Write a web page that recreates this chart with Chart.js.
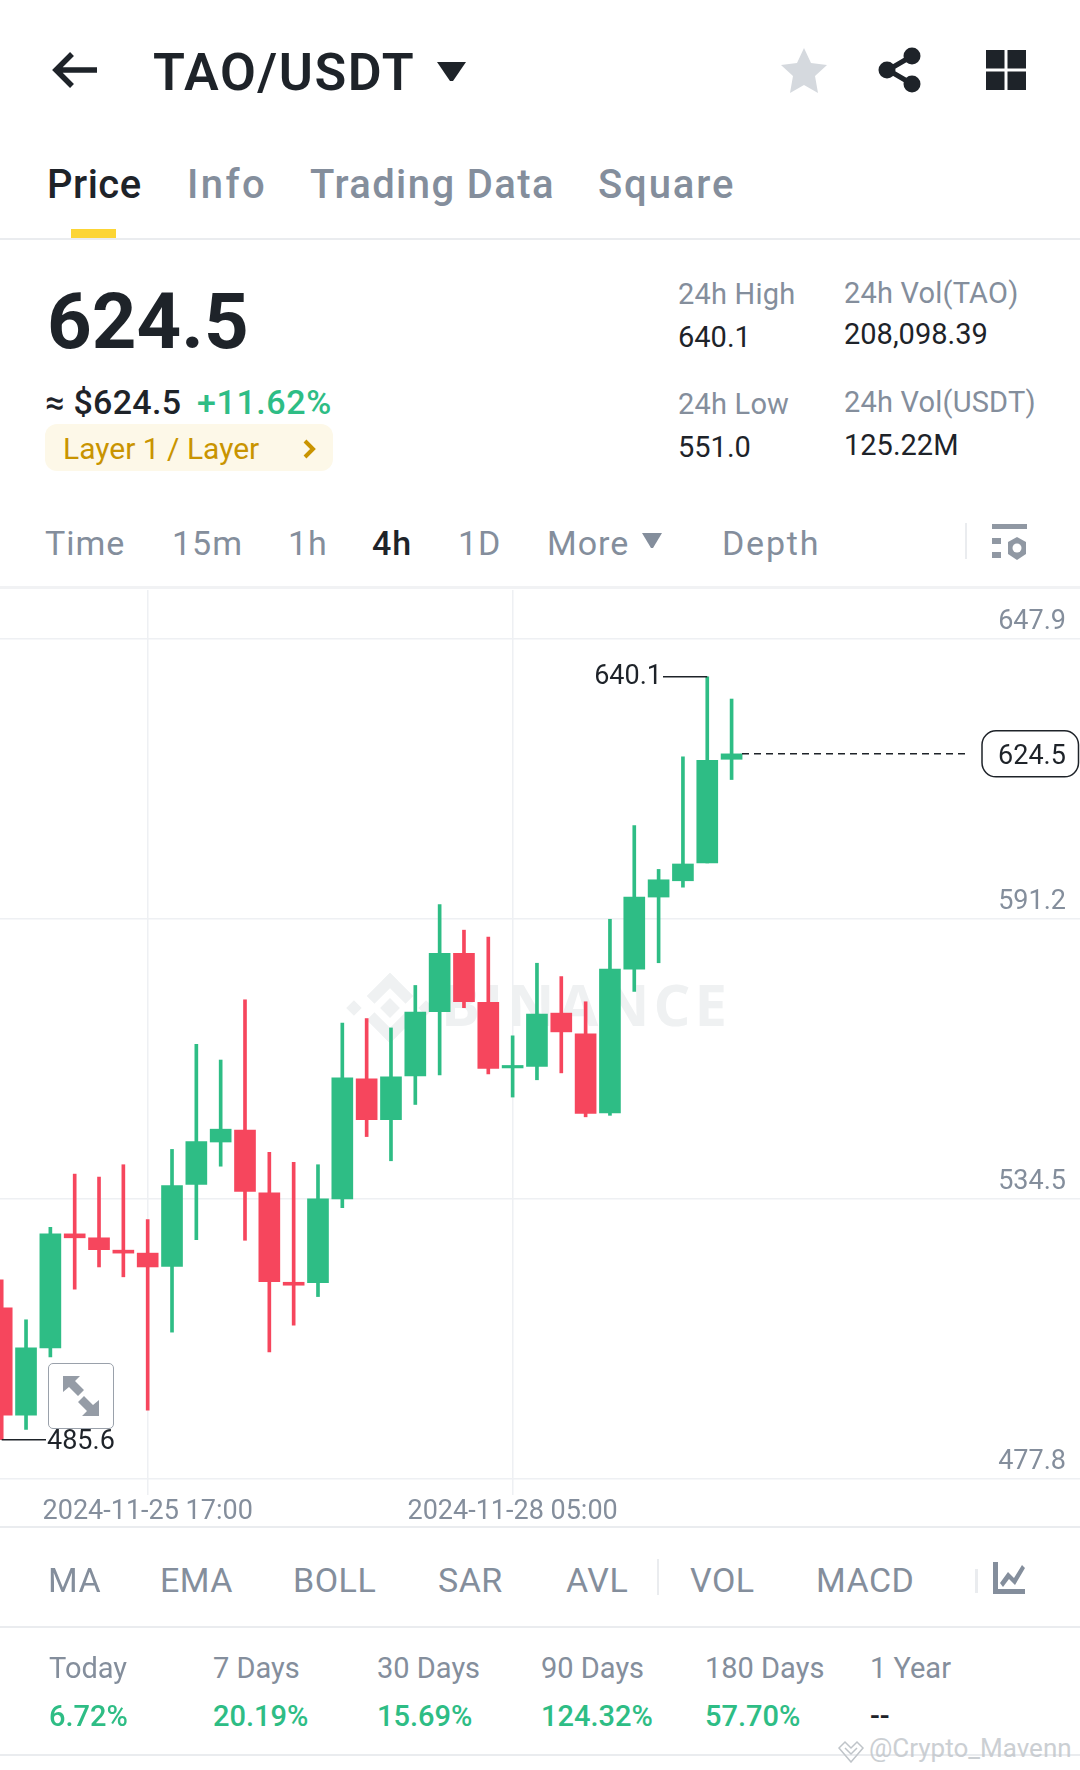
<!DOCTYPE html>
<html>
<head>
<meta charset="utf-8">
<title>TAO/USDT</title>
<script src="https://cdn.jsdelivr.net/npm/chart.js@4"></script>
<style>
  html, body { margin: 0; padding: 0; background: #fff; }
  #page { position: relative; width: 1080px; height: 1770px; overflow: hidden; font-family: Roboto, sans-serif; color: #1e2329; }
  #page span { position: absolute; white-space: nowrap; transform: translateY(-50%); line-height: 1; }
  .line { position: absolute; background: #eaecef; }
  .tab { font-size: 40px; font-weight: 500; color: #848e9c; letter-spacing: 1.9px; }
  .stat { font-size: 29px; color: #848e9c; letter-spacing: .2px; }
  .num { font-size: 29px; color: #1e2329; }
  .range { font-size: 34px; color: #848e9c; letter-spacing: 1px; }
  .ind { font-size: 34px; color: #848e9c; letter-spacing: .5px; }
  .per { font-size: 29px; color: #848e9c; }
  .ret { font-size: 29px; font-weight: 500; color: #2ebd85; }
  svg { position: absolute; }
  canvas { position: absolute; left: 0; top: 590px; }
</style>
</head>
<body>
<div id="page">
  <!-- top bar -->
  <svg style="left:50px;top:50px" width="50" height="40" viewBox="0 0 50 40"><path d="M47 20H7M22 4L6 20l16 16" fill="none" stroke="#1e2329" stroke-width="5.5"/></svg>
  <span style="left:153px;top:73px;font-size:52px;font-weight:600;letter-spacing:1.6px">TAO/USDT</span>
  <svg style="left:436px;top:61px" width="31" height="21" viewBox="0 0 31 21"><path d="M1 1h29L17 20h-3z" fill="#1e2329"/></svg>
  <svg style="left:780px;top:47px" width="48" height="48" viewBox="0 0 48 48"><path d="M24 1l7 15 16 2-12 11 3 17-14-8-14 8 3-17L1 18l16-2z" fill="#d5d9de"/></svg>
  <svg style="left:876px;top:46px" width="48" height="48" viewBox="0 0 48 48"><path d="M36 10L12 24l24 14" fill="none" stroke="#1e2329" stroke-width="5"/><circle cx="36" cy="10" r="8.5" fill="#1e2329"/><circle cx="11" cy="24" r="8.5" fill="#1e2329"/><circle cx="36" cy="38" r="8.5" fill="#1e2329"/></svg>
  <svg style="left:986px;top:50px" width="40" height="40" viewBox="0 0 40 40" fill="#1e2329"><rect width="18.5" height="18.5"/><rect x="21.5" width="18.5" height="18.5"/><rect y="21.5" width="18.5" height="18.5"/><rect x="21.5" y="21.5" width="18.5" height="18.5"/></svg>

  <!-- tabs -->
  <span class="tab" style="left:47px;top:185px;color:#1e2329;letter-spacing:.5px">Price</span>
  <span class="tab" style="left:187px;top:185px;letter-spacing:2.4px">Info</span>
  <span class="tab" style="left:310px;top:185px;letter-spacing:1.4px">Trading Data</span>
  <span class="tab" style="left:598px;top:185px">Square</span>
  <div style="position:absolute;left:71px;top:229px;width:45px;height:9px;background:#fcd535"></div>
  <div class="line" style="left:0;top:238px;width:1080px;height:2px"></div>

  <!-- price block -->
  <span style="left:47px;top:322px;font-size:78px;font-weight:700">624.5</span>
  <span style="left:45px;top:402px;font-size:34px;font-weight:500;letter-spacing:.3px">≈ $624.5</span>
  <span style="left:197px;top:402px;font-size:34px;font-weight:500;letter-spacing:.6px;color:#2ebd85">+11.62%</span>
  <div style="position:absolute;left:45px;top:424px;width:288px;height:47px;border-radius:12px;background:#fdf8e8"></div>
  <span style="left:63px;top:449px;font-size:30px;color:#c99400">Layer 1 / Layer</span>
  <svg style="left:302px;top:439px" width="14" height="20" viewBox="0 0 14 20"><path d="M3 2l8 8-8 8" fill="none" stroke="#c99400" stroke-width="4"/></svg>

  <span class="stat" style="left:678px;top:294px">24h High</span>
  <span class="num" style="left:678px;top:337px">640.1</span>
  <span class="stat" style="left:678px;top:404px">24h Low</span>
  <span class="num" style="left:678px;top:447px">551.0</span>
  <span class="stat" style="left:844px;top:293px">24h Vol(TAO)</span>
  <span class="num" style="left:844px;top:334px">208,098.39</span>
  <span class="stat" style="left:844px;top:402px">24h Vol(USDT)</span>
  <span class="num" style="left:844px;top:445px">125.22M</span>

  <!-- interval row -->
  <span class="range" style="left:45px;top:543px">Time</span>
  <span class="range" style="left:172px;top:543px">15m</span>
  <span class="range" style="left:288px;top:543px">1h</span>
  <span class="range" style="left:372px;top:543px;color:#1e2329;font-weight:500">4h</span>
  <span class="range" style="left:458px;top:543px">1D</span>
  <span class="range" style="left:547px;top:543px">More</span>
  <svg style="left:642px;top:533px" width="20" height="15" viewBox="0 0 20 15"><path d="M0 0h20L11 15H9z" fill="#848e9c"/></svg>
  <span class="range" style="left:722px;top:543px;letter-spacing:1.8px">Depth</span>
  <div class="line" style="left:965px;top:523px;width:2px;height:36px"></div>
  <svg style="left:992px;top:524px" width="35" height="36" viewBox="0 0 35 36" fill="#9098a3"><rect width="35" height="5"/><rect y="14" width="9" height="6"/><rect y="28" width="9" height="6"/><path d="M25 13l9 5v12l-9 6-9-6V18z"/><circle cx="25" cy="24" r="4.5" fill="#fff"/></svg>
  <div class="line" style="left:0;top:586px;width:1080px;height:3px;background:#f1f2f4"></div>

  <canvas id="myChart" width="1080" height="937"></canvas>

  <!-- expand button -->
  <div style="position:absolute;left:48px;top:1363px;width:64px;height:64px;border:1.5px solid #9aa1ab;border-radius:5px;background:#fff"></div>
  <svg style="left:60px;top:1375px" width="42" height="42" viewBox="0 0 42 42" fill="#959ca6"><path d="M3 1h17l-5 5 9 9-6 6-9-9-6 5z"/><path d="M39 41H22l5-5-9-9 6-6 9 9 6-5z"/></svg>

  <div class="line" style="left:0;top:1526px;width:1080px;height:2px"></div>

  <!-- indicator row -->
  <span class="ind" style="left:48px;top:1580px">MA</span>
  <span class="ind" style="left:160px;top:1580px">EMA</span>
  <span class="ind" style="left:293px;top:1580px">BOLL</span>
  <span class="ind" style="left:438px;top:1580px">SAR</span>
  <span class="ind" style="left:566px;top:1580px">AVL</span>
  <div class="line" style="left:657px;top:1559px;width:2px;height:36px"></div>
  <span class="ind" style="left:690px;top:1580px">VOL</span>
  <span class="ind" style="left:816px;top:1580px">MACD</span>
  <div class="line" style="left:975px;top:1569px;width:3px;height:24px"></div>
  <svg style="left:993px;top:1562px" width="32" height="32" viewBox="0 0 32 32" fill="#848e9c"><path d="M0 0h5v27h27v5H0z"/><path d="M7 21l8-11 6 6 8-13 3 3-10 17-6-6-6 8z"/></svg>
  <div class="line" style="left:0;top:1626px;width:1080px;height:2px"></div>

  <!-- returns row -->
  <span class="per" style="left:49px;top:1668px">Today</span>
  <span class="per" style="left:213px;top:1668px">7 Days</span>
  <span class="per" style="left:377px;top:1668px">30 Days</span>
  <span class="per" style="left:541px;top:1668px">90 Days</span>
  <span class="per" style="left:705px;top:1668px">180 Days</span>
  <span class="per" style="left:870px;top:1668px">1 Year</span>
  <span class="ret" style="left:49px;top:1716px">6.72%</span>
  <span class="ret" style="left:213px;top:1716px">20.19%</span>
  <span class="ret" style="left:377px;top:1716px">15.69%</span>
  <span class="ret" style="left:541px;top:1716px">124.32%</span>
  <span class="ret" style="left:705px;top:1716px">57.70%</span>
  <span class="ret" style="left:870px;top:1716px;color:#1e2329">--</span>
  <div class="line" style="left:0;top:1754px;width:1080px;height:2px"></div>

  <!-- screenshot watermark -->
  <svg style="left:837px;top:1739px" width="28" height="24" viewBox="0 0 28 24" fill="none" stroke="#bfc4c9" stroke-width="1.5"><path d="M14 23L2 9l6-6 6 6 6-6 6 6zM8 9l6 6 6-6"/></svg>
  <span style="left:869px;top:1748px;font-size:26px;color:#c3c7cc;opacity:.85">@Crypto_Mavenn</span>
</div>

<script>
// 4h candles
var times = [
    '2024-11-24 17:00', '2024-11-24 21:00', '2024-11-25 01:00', '2024-11-25 05:00', '2024-11-25 09:00', '2024-11-25 13:00',
    '2024-11-25 17:00', '2024-11-25 21:00', '2024-11-26 01:00', '2024-11-26 05:00', '2024-11-26 09:00', '2024-11-26 13:00',
    '2024-11-26 17:00', '2024-11-26 21:00', '2024-11-27 01:00', '2024-11-27 05:00', '2024-11-27 09:00', '2024-11-27 13:00',
    '2024-11-27 17:00', '2024-11-27 21:00', '2024-11-28 01:00', '2024-11-28 05:00', '2024-11-28 09:00', '2024-11-28 13:00',
    '2024-11-28 17:00', '2024-11-28 21:00', '2024-11-29 01:00', '2024-11-29 05:00', '2024-11-29 09:00', '2024-11-29 13:00',
    '2024-11-29 17:00'
];
var opens = [512.3, 490.6, 504.2, 527.3, 526.5, 524.0, 523.4, 520.7, 537.3, 545.9, 548.3, 535.6, 517.5, 517.4, 534.4, 558.7,
    550.4, 559.3, 572.3, 584.1, 574.2, 560.9, 561.2, 572.0, 567.8, 551.8, 580.9, 595.5, 598.8, 602.4, 623.4];
var closes = [490.6, 504.2, 527.3, 526.5, 524.1, 523.4, 520.6, 537.1, 546.0, 548.5, 535.9, 517.6, 516.9, 534.4, 558.9, 550.4,
    559.1, 572.2, 584.1, 574.3, 560.8, 561.4, 571.8, 568.2, 551.7, 580.9, 595.5, 599.0, 602.2, 623.2, 624.5];
var highs = [518.0, 509.9, 528.6, 539.4, 538.8, 541.3, 530.2, 544.4, 565.7, 562.5, 574.7, 543.8, 541.8, 541.3, 570.0, 570.9,
    569.0, 577.6, 594.0, 588.8, 587.4, 567.4, 582.1, 579.4, 574.3, 591.0, 610.0, 601.1, 623.9, 640.1, 635.6];
var lows = [485.6, 487.7, 502.4, 516.1, 520.6, 518.6, 491.6, 507.4, 526.1, 541.0, 526.0, 503.4, 508.8, 514.6, 532.6, 547.0,
    542.1, 553.5, 559.5, 573.1, 559.7, 555.0, 558.5, 559.9, 551.0, 551.3, 576.4, 582.2, 597.5, 602.4, 619.3];
var priceTicks = [647.9, 591.2, 534.5, 477.8];
var timeTicks = ['2024-11-25 17:00', '2024-11-28 05:00'];
var lastPrice = 624.5;
var highLabel = 640.1;
var lowLabel = 485.6;

var GREEN = '#2ebd85';
var RED = '#f6465d';

function candleColor(i) {
    return closes[i] >= opens[i] ? GREEN : RED;
}

// the scales must not reserve room for the outer labels, the plot runs edge to edge
function noPadding(axis) {
    axis.paddingLeft = 0;
    axis.paddingRight = 0;
    axis.paddingTop = 0;
    axis.paddingBottom = 0;
}

var wicks = times.map(function (t, i) { return { x: i, y: [lows[i], highs[i]] }; });
var bodies = times.map(function (t, i) { return { x: i, y: [opens[i], closes[i]] }; });

// draws the faint logo behind the candles and the price labels on top of them
var extras = {
    id: 'extras',
    beforeDatasetsDraw: function (chart) {
        var ctx = chart.ctx;
        ctx.save();
        ctx.fillStyle = '#eff1f2';
        ctx.translate(390, 418);
        ctx.rotate(Math.PI / 4);
        [[-25, -25, 33, 11], [-25, -25, 11, 33], [14, -8, 11, 33], [-8, 14, 33, 11], [-7, -7, 14, 14], [-31, 20, 11, 11], [20, -31, 11, 11]].forEach(function (r) {
            ctx.fillRect(r[0], r[1], r[2], r[3]);
        });
        ctx.restore();
        ctx.save();
        ctx.fillStyle = '#eff1f2';
        ctx.font = '700 58px "Open Sans"';
        ctx.textBaseline = 'middle';
        ctx.letterSpacing = '4px';
        ctx.fillText('BINANCE', 441, 419);
        ctx.restore();
    },
    afterDatasetsDraw: function (chart) {
        var ctx = chart.ctx;
        var x = chart.scales.x;
        var y = chart.scales.y;
        ctx.save();
        ctx.font = '27px Roboto';
        ctx.textBaseline = 'middle';
        ctx.fillStyle = '#1e2329';
        ctx.strokeStyle = '#1e2329';
        ctx.lineWidth = 1.5;

        // highest candle
        var hi = highs.indexOf(highLabel);
        var hiY = y.getPixelForValue(highLabel);
        ctx.beginPath();
        ctx.moveTo(663, hiY);
        ctx.lineTo(x.getPixelForValue(hi), hiY);
        ctx.stroke();
        ctx.textAlign = 'right';
        ctx.fillText(highLabel.toFixed(1), 662, hiY);

        // lowest candle
        var lo = lows.indexOf(lowLabel);
        var loY = y.getPixelForValue(lowLabel);
        ctx.beginPath();
        ctx.moveTo(x.getPixelForValue(lo), loY);
        ctx.lineTo(46, loY);
        ctx.stroke();
        ctx.textAlign = 'left';
        ctx.fillText(lowLabel.toFixed(1), 47, loY + 2);

        // last price line and box
        var lastY = y.getPixelForValue(lastPrice);
        ctx.setLineDash([7, 5]);
        ctx.beginPath();
        ctx.moveTo(742, lastY);
        ctx.lineTo(965, lastY);
        ctx.stroke();
        ctx.setLineDash([]);
        ctx.fillStyle = '#fff';
        ctx.beginPath();
        ctx.roundRect(982, lastY - 23, 96.5, 46, 14);
        ctx.fill();
        ctx.stroke();
        ctx.fillStyle = '#1e2329';
        ctx.textAlign = 'center';
        ctx.fillText(lastPrice.toFixed(1), 1032, lastY + 3);
        ctx.restore();
    }
};

var ctx = document.getElementById('myChart').getContext('2d');
var myChart = new Chart(ctx, {
    type: 'bar',
    data: {
        datasets: [{
            label: 'wick',
            data: wicks,
            backgroundColor: times.map(function (t, i) { return candleColor(i); }),
            barThickness: 3,
            order: 2
        }, {
            label: 'body',
            data: bodies,
            backgroundColor: times.map(function (t, i) { return candleColor(i); }),
            barThickness: 21,
            order: 1
        }]
    },
    options: {
        responsive: false,
        animation: false,
        devicePixelRatio: 1,
        layout: { padding: 0 },
        datasets: { bar: { grouped: false, borderWidth: 0, borderSkipped: false } },
        plugins: { legend: { display: false }, tooltip: { enabled: false } },
        scales: {
            x: {
                type: 'linear',
                offset: false,
                min: -0.07,
                max: 44.32,
                afterBuildTicks: function (axis) {
                    axis.ticks = timeTicks.map(function (t) { return { value: times.indexOf(t) }; });
                },
                afterFit: function (axis) {
                    axis.height = 32;
                    noPadding(axis);
                },
                border: { display: false },
                grid: { offset: false, color: '#eef0f3', lineWidth: 1.5, drawTicks: false },
                ticks: {
                    autoSkip: false,
                    maxRotation: 0,
                    padding: 1,
                    color: '#848e9c',
                    font: { family: 'Roboto', size: 27 },
                    callback: function (value) { return times[value]; }
                }
            },
            y: {
                position: 'right',
                min: 474.42,
                max: 657.68,
                afterBuildTicks: function (axis) {
                    axis.ticks = priceTicks.map(function (v) { return { value: v }; });
                },
                afterFit: function (axis) {
                    axis.width = 0;
                    noPadding(axis);
                },
                border: { display: false },
                grid: { color: '#eef0f3', lineWidth: 1.5, drawTicks: false },
                ticks: {
                    mirror: true,
                    padding: -14,
                    labelOffset: -16,
                    color: '#848e9c',
                    font: { family: 'Roboto', size: 27 },
                    callback: function (value) { return value.toFixed(1); }
                }
            }
        }
    },
    plugins: [extras]
});
</script>
</body>
</html>
